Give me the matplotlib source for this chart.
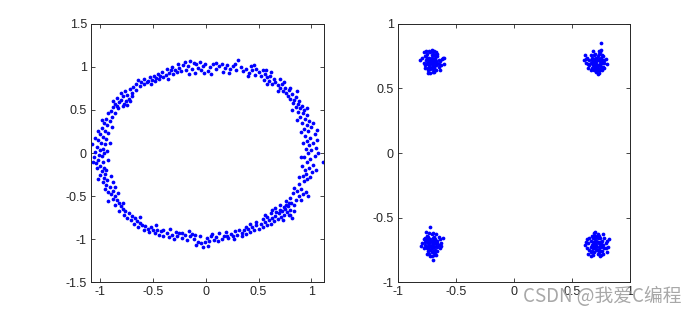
import matplotlib.pyplot as plt

# points, (x, y)
ring = [
    # right side, bottom to top
    (0.85, -0.55), (0.88, -0.50), (0.83, -0.47), (0.92, -0.48), (0.86, -0.44), (0.90, -0.42), (0.84, -0.41), (0.95, -0.45),
    (0.88, -0.36), (0.93, -0.33), (0.96, -0.30), (0.92, -0.27), (0.99, -0.28), (0.95, -0.24), (1.01, -0.22), (0.94, -0.20),
    (0.98, -0.18), (0.91, -0.15), (1.02, -0.14), (0.96, -0.11), (1.11, -0.11), (0.99, -0.07), (0.93, -0.05), (1.03, -0.03),
    (0.97, 0.00), (1.00, 0.03), (0.95, 0.05), (1.04, 0.06), (0.98, 0.09), (1.02, 0.12), (0.96, 0.14), (1.05, 0.15),
    (0.99, 0.18), (0.94, 0.20), (1.03, 0.22), (0.97, 0.25), (1.05, 0.27), (0.93, 0.28), (1.00, 0.30), (0.96, 0.33),
    (0.91, 0.35), (0.98, 0.37), (0.94, 0.40), (0.89, 0.42), (0.96, 0.44), (0.92, 0.46), (0.87, 0.48), (0.93, 0.50),
    (0.89, 0.52), (0.85, 0.54), (0.91, 0.55), (0.87, 0.57), (0.83, 0.58), (0.88, 0.60), (0.84, 0.62), (0.80, 0.63),
    (0.90, -0.55), (0.97, -0.50), (0.80, -0.52), (0.88, -0.28), (1.04, -0.20), (0.90, -0.05), (1.06, 0.00), (0.92, 0.12),
    (0.90, 0.24), (1.02, 0.35), (0.86, 0.38), (0.96, 0.52), (0.82, 0.50),
    # upper right
    (0.85, 0.65), (0.78, 0.66), (0.82, 0.69), (0.76, 0.70), (0.79, 0.73), (0.73, 0.72), (0.75, 0.76), (0.70, 0.75),
    (0.68, 0.79), (0.72, 0.80), (0.66, 0.82), (0.63, 0.80), (0.60, 0.84), (0.65, 0.86), (0.58, 0.88), (0.55, 0.85),
    (0.61, 0.90), (0.56, 0.92), (0.52, 0.90), (0.57, 0.97), (0.50, 0.94), (0.47, 0.91), (0.44, 0.96), (0.48, 0.98),
    (0.41, 0.93), (0.38, 0.98), (0.43, 1.01), (0.35, 0.95), (0.33, 1.00), (0.31, 1.08),
    (0.86, 0.72), (0.74, 0.82), (0.70, 0.86), (0.62, 0.94), (0.54, 0.96), (0.46, 1.02), (0.40, 0.90), (0.68, 0.72),
    (0.80, 0.76), (0.58, 0.80),
    # top
    (0.29, 0.97), (0.26, 1.01), (0.23, 0.98), (0.20, 1.02), (0.18, 0.99), (0.15, 1.04), (0.13, 1.01), (0.10, 0.98),
    (0.07, 1.03), (0.04, 1.00), (0.02, 0.95), (-0.01, 1.04), (-0.03, 1.01), (-0.02, 0.93), (-0.05, 1.06), (-0.07, 0.99),
    (-0.09, 1.03), (-0.11, 1.05), (-0.13, 0.98), (-0.15, 1.07), (-0.17, 1.01), (-0.19, 0.97), (-0.21, 1.02), (-0.23, 0.95),
    (-0.25, 0.99), (-0.27, 0.94), (-0.29, 0.97), (-0.31, 0.92), (-0.33, 0.96), (-0.35, 0.93),
    (0.28, 1.03), (0.22, 0.93), (0.16, 0.94), (0.10, 1.05), (0.05, 0.92), (-0.04, 0.96), (-0.10, 0.93), (-0.16, 0.92),
    (-0.20, 1.06), (-0.26, 1.04), (-0.32, 1.00), (-0.37, 0.98),
    # upper left
    (-0.38, 0.91), (-0.41, 0.94), (-0.43, 0.89), (-0.45, 0.92), (-0.47, 0.87), (-0.49, 0.90), (-0.51, 0.85), (-0.53, 0.88),
    (-0.55, 0.84), (-0.58, 0.86), (-0.61, 0.82), (-0.64, 0.85), (-0.66, 0.80), (-0.69, 0.77), (-0.72, 0.74), (-0.70, 0.70),
    (-0.74, 0.68), (-0.76, 0.72), (-0.73, 0.63), (-0.78, 0.66), (-0.75, 0.60), (-0.80, 0.62), (-0.77, 0.57), (-0.82, 0.59),
    (-0.84, 0.55), (-0.86, 0.57), (-0.83, 0.52), (-0.88, 0.53), (-0.90, 0.49), (-0.86, 0.47),
    (-0.80, 0.70), (-0.84, 0.64), (-0.78, 0.55), (-0.72, 0.60), (-0.70, 0.66), (-0.88, 0.60), (-0.74, 0.56), (-0.66, 0.73),
    (-0.62, 0.78), (-0.56, 0.82), (-0.52, 0.80), (-0.48, 0.84), (-0.44, 0.86), (-0.40, 0.88), (-0.36, 0.86), (-0.58, 0.80),
    # left side
    (-0.92, 0.46), (-0.89, 0.42), (-0.94, 0.40), (-0.91, 0.37), (-0.96, 0.35), (-0.93, 0.32), (-0.89, 0.30), (-0.98, 0.29),
    (-0.95, 0.26), (-0.92, 0.23), (-1.00, 0.22), (-0.97, 0.19), (-0.94, 0.16), (-1.02, 0.15), (-0.99, 0.12), (-0.95, 0.10),
    (-1.08, 0.10), (-1.03, 0.07), (-0.97, 0.05), (-1.00, 0.03), (-1.05, 0.01), (-0.96, 0.00), (-1.01, -0.02), (-0.98, -0.04),
    (-1.06, -0.05), (-1.02, -0.08), (-0.97, -0.10), (-1.04, -0.12), (-1.00, -0.15), (-0.96, -0.17), (-1.03, -0.18), (-0.98, -0.21),
    (-0.95, -0.24), (-1.00, -0.26), (-0.96, -0.29), (-0.93, -0.31), (-0.97, -0.34), (-0.94, -0.37), (-0.91, -0.39), (-0.95, -0.42),
    (-0.92, -0.45), (-0.88, -0.44),
    (-0.98, 0.38), (-1.02, 0.25), (-1.05, 0.18), (-0.91, 0.12), (-0.93, 0.02), (-0.92, -0.08), (-1.07, -0.10), (-0.94, -0.20),
    (-1.02, -0.30), (-0.88, -0.34), (-0.90, -0.27), (-0.86, -0.40),
    # lower left
    (-0.90, -0.48), (-0.86, -0.50), (-0.88, -0.53), (-0.84, -0.55), (-0.82, -0.58), (-0.86, -0.60), (-0.80, -0.62), (-0.78, -0.65),
    (-0.82, -0.67), (-0.76, -0.68), (-0.73, -0.70), (-0.77, -0.72), (-0.70, -0.73), (-0.67, -0.76), (-0.71, -0.78), (-0.65, -0.79),
    (-0.68, -0.82), (-0.62, -0.81), (-0.60, -0.84), (-0.64, -0.86), (-0.57, -0.85), (-0.55, -0.88), (-0.52, -0.86), (-0.50, -0.90),
    (-0.54, -0.92), (-0.48, -0.93), (-0.46, -0.89), (-0.44, -0.95), (-0.42, -0.91), (-0.40, -0.97),
    (-0.83, -0.47), (-0.92, -0.56), (-0.78, -0.58), (-0.74, -0.76), (-0.62, -0.74), (-0.58, -0.90), (-0.47, -0.84), (-0.40, -0.90),
    (-0.34, -0.88), (-0.28, -0.92),
    # bottom
    (-0.37, -0.93), (-0.35, -0.98), (-0.32, -0.95), (-0.30, -1.00), (-0.27, -0.96), (-0.25, -0.93), (-0.22, -0.99), (-0.20, -0.95),
    (-0.18, -1.01), (-0.15, -0.97), (-0.13, -0.94), (-0.11, -1.00), (-0.09, -1.07), (-0.07, -1.03), (-0.05, -0.97), (-0.03, -1.09),
    (-0.01, -1.04), (0.01, -0.99), (0.03, -1.02), (0.05, -0.96), (0.08, -1.01), (0.10, -0.98), (0.13, -0.93), (0.15, -1.00),
    (0.17, -0.96), (0.19, -0.92), (0.21, -0.99), (0.24, -0.94), (0.26, -0.97), (0.28, -0.91), (0.30, -0.95), (0.32, -0.89),
    (0.34, -0.93),
    (-0.22, -0.93), (-0.16, -0.91), (-0.10, -0.95), (-0.04, -1.05), (0.02, -1.08), (0.06, -0.94), (0.12, -1.02), (0.20, -0.96),
    (0.27, -1.00), (0.34, -0.97), (0.38, -0.86), (0.42, -0.82),
    # lower right
    (0.36, -0.90), (0.38, -0.94), (0.40, -0.88), (0.42, -0.92), (0.44, -0.86), (0.46, -0.90), (0.48, -0.84), (0.50, -0.88),
    (0.52, -0.82), (0.54, -0.86), (0.56, -0.80), (0.58, -0.84), (0.60, -0.78), (0.62, -0.82), (0.63, -0.76), (0.65, -0.79),
    (0.66, -0.73), (0.68, -0.77), (0.69, -0.70), (0.71, -0.74), (0.72, -0.68), (0.74, -0.72), (0.75, -0.65), (0.77, -0.69),
    (0.78, -0.62), (0.80, -0.66), (0.76, -0.60), (0.81, -0.58), (0.74, -0.63), (0.70, -0.66), (0.82, -0.76), (0.79, -0.72),
    (0.67, -0.69), (0.73, -0.78), (0.84, -0.60),
    (0.48, -0.80), (0.54, -0.77), (0.58, -0.74), (0.62, -0.70), (0.66, -0.64), (0.70, -0.60), (0.76, -0.56), (0.80, -0.72),
    (0.84, -0.68), (0.63, -0.66), (0.56, -0.72), (0.79, -0.58),
]

cluster_tl = [
    (-0.71, 0.71), (-0.68, 0.73), (-0.74, 0.69), (-0.70, 0.76), (-0.73, 0.74), (-0.66, 0.70), (-0.76, 0.72), (-0.69, 0.67),
    (-0.72, 0.65), (-0.75, 0.77), (-0.67, 0.78), (-0.81, 0.72), (-0.62, 0.73), (-0.71, 0.80), (-0.74, 0.62), (-0.69, 0.63),
    (-0.77, 0.68), (-0.65, 0.67), (-0.70, 0.72), (-0.72, 0.70), (-0.68, 0.69), (-0.73, 0.71), (-0.75, 0.74), (-0.66, 0.75),
    (-0.70, 0.68), (-0.78, 0.70), (-0.64, 0.71), (-0.71, 0.74), (-0.69, 0.70), (-0.74, 0.66), (-0.61, 0.74), (-0.67, 0.64),
    (-0.76, 0.79), (-0.72, 0.78), (-0.73, 0.68), (-0.70, 0.65), (-0.68, 0.76), (-0.77, 0.75), (-0.65, 0.69), (-0.71, 0.67),
    (-0.60, 0.69), (-0.79, 0.74), (-0.69, 0.79), (-0.74, 0.64),
    (-0.70, 0.70), (-0.72, 0.73), (-0.69, 0.72), (-0.73, 0.67), (-0.67, 0.71), (-0.71, 0.69), (-0.74, 0.73), (-0.68, 0.74),
    (-0.70, 0.78), (-0.66, 0.77), (-0.64, 0.64), (-0.77, 0.66), (-0.72, 0.62), (-0.75, 0.70), (-0.69, 0.66), (-0.71, 0.76),
    (-0.73, 0.79), (-0.63, 0.68), (-0.76, 0.75), (-0.67, 0.68), (-0.60, 0.74), (-0.78, 0.78), (-0.70, 0.63), (-0.65, 0.72),
]
cluster_tr = [
    (0.71, 0.71), (0.74, 0.69), (0.68, 0.72), (0.72, 0.75), (0.70, 0.67), (0.76, 0.72), (0.66, 0.70), (0.73, 0.65),
    (0.69, 0.76), (0.75, 0.85), (0.78, 0.70), (0.63, 0.74), (0.71, 0.63), (0.67, 0.66), (0.74, 0.78), (0.60, 0.72),
    (0.77, 0.67), (0.70, 0.73), (0.72, 0.68), (0.69, 0.69), (0.75, 0.74), (0.65, 0.68), (0.73, 0.62), (0.80, 0.69),
    (0.68, 0.79), (0.71, 0.66), (0.74, 0.71), (0.62, 0.70), (0.76, 0.64), (0.70, 0.70), (0.67, 0.74), (0.72, 0.72),
    (0.79, 0.73), (0.64, 0.66), (0.73, 0.77), (0.69, 0.64), (0.75, 0.80), (0.71, 0.68), (0.66, 0.76), (0.78, 0.66),
    (0.61, 0.76), (0.72, 0.64), (0.76, 0.76), (0.68, 0.68),
    (0.70, 0.71), (0.73, 0.73), (0.69, 0.70), (0.72, 0.66), (0.67, 0.72), (0.74, 0.68), (0.71, 0.74), (0.68, 0.65),
    (0.76, 0.70), (0.65, 0.72), (0.73, 0.79), (0.70, 0.77), (0.77, 0.75), (0.64, 0.69), (0.72, 0.61), (0.69, 0.73),
    (0.75, 0.67), (0.66, 0.64), (0.78, 0.72), (0.62, 0.73), (0.71, 0.69), (0.74, 0.64), (0.70, 0.64), (0.67, 0.70),
]
cluster_bl = [
    (-0.71, -0.71), (-0.68, -0.69), (-0.74, -0.72), (-0.70, -0.66), (-0.73, -0.75), (-0.66, -0.73), (-0.76, -0.68), (-0.69, -0.77),
    (-0.72, -0.57), (-0.76, -0.61), (-0.70, -0.83), (-0.64, -0.67), (-0.78, -0.74), (-0.71, -0.63), (-0.67, -0.79), (-0.74, -0.65),
    (-0.69, -0.73), (-0.72, -0.69), (-0.65, -0.71), (-0.77, -0.71), (-0.68, -0.75), (-0.73, -0.78), (-0.70, -0.70), (-0.75, -0.67),
    (-0.66, -0.68), (-0.71, -0.74), (-0.61, -0.66), (-0.79, -0.70), (-0.69, -0.65), (-0.74, -0.76), (-0.67, -0.72), (-0.72, -0.80),
    (-0.76, -0.73), (-0.70, -0.62), (-0.64, -0.74), (-0.73, -0.70), (-0.68, -0.67), (-0.71, -0.77), (-0.75, -0.64), (-0.66, -0.76),
    (-0.72, -0.72), (-0.69, -0.79), (-0.77, -0.66), (-0.63, -0.70),
    (-0.70, -0.72), (-0.73, -0.73), (-0.69, -0.70), (-0.72, -0.67), (-0.67, -0.70), (-0.74, -0.70), (-0.71, -0.68), (-0.68, -0.77),
    (-0.75, -0.74), (-0.65, -0.65), (-0.73, -0.62), (-0.70, -0.76), (-0.77, -0.69), (-0.66, -0.70), (-0.72, -0.75), (-0.69, -0.68),
    (-0.75, -0.78), (-0.63, -0.72), (-0.78, -0.67), (-0.71, -0.80), (-0.67, -0.63), (-0.74, -0.68), (-0.70, -0.73), (-0.80, -0.72),
]
cluster_br = [
    (0.71, -0.71), (0.68, -0.69), (0.74, -0.72), (0.70, -0.66), (0.73, -0.75), (0.66, -0.73), (0.76, -0.68), (0.69, -0.77),
    (0.70, -0.61), (0.72, -0.63), (0.80, -0.77), (0.82, -0.67), (0.64, -0.78), (0.78, -0.74), (0.67, -0.64), (0.75, -0.79),
    (0.61, -0.71), (0.72, -0.69), (0.69, -0.73), (0.74, -0.66), (0.77, -0.71), (0.66, -0.68), (0.71, -0.75), (0.63, -0.74),
    (0.79, -0.70), (0.68, -0.79), (0.73, -0.64), (0.70, -0.70), (0.75, -0.73), (0.67, -0.76), (0.72, -0.78), (0.65, -0.66),
    (0.78, -0.66), (0.71, -0.68), (0.69, -0.64), (0.76, -0.76), (0.62, -0.69), (0.74, -0.80), (0.70, -0.74), (0.68, -0.72),
    (0.81, -0.73), (0.73, -0.70), (0.66, -0.80), (0.77, -0.63),
    (0.70, -0.71), (0.73, -0.73), (0.69, -0.70), (0.72, -0.66), (0.67, -0.71), (0.74, -0.69), (0.71, -0.73), (0.68, -0.66),
    (0.76, -0.72), (0.65, -0.75), (0.73, -0.77), (0.70, -0.68), (0.77, -0.78), (0.64, -0.70), (0.72, -0.75), (0.69, -0.62),
    (0.75, -0.70), (0.66, -0.77), (0.79, -0.74), (0.63, -0.67), (0.71, -0.64), (0.74, -0.76), (0.68, -0.74), (0.80, -0.68),
]

left_xticks = [-1, -0.5, 0, 0.5, 1]
left_yticks = [-1.5, -1, -0.5, 0, 0.5, 1, 1.5]
right_ticks = [-1, -0.5, 0, 0.5, 1]


def tick_text(v):
    return "0" if v == 0 else f"{v:g}"


def style_axes(ax):
    ax.tick_params(direction="in", length=3, width=0.6, labelsize=9,
                   top=True, right=True, colors="#262626", pad=3)
    for s in ax.spines.values():
        s.set_linewidth(0.7)
        s.set_color("#262626")


plt.rcParams["font.family"] = ["Liberation Sans", "DejaVu Sans"]
fig = plt.figure(figsize=(6.97, 3.17), dpi=100)

ax1 = fig.add_axes([0.1306, 0.1104, 0.3343, 0.8139])
x, y = zip(*ring)
ax1.plot(x, y, "o", color="#0000ff", markersize=2.7, markeredgewidth=0)
ax1.set_xlim(-1.085, 1.12)
ax1.set_ylim(-1.5, 1.5)
ax1.set_xticks(left_xticks, [tick_text(v) for v in left_xticks])
ax1.set_yticks(left_yticks, [tick_text(v) for v in left_yticks])
style_axes(ax1)

ax2 = fig.add_axes([0.571, 0.1104, 0.3329, 0.8139])
for pts in (cluster_tl, cluster_tr, cluster_bl, cluster_br):
    x, y = zip(*pts)
    ax2.plot(x, y, "o", color="#0000ff", markersize=2.7, markeredgewidth=0)
ax2.set_xlim(-1, 1)
ax2.set_ylim(-1, 1)
ax2.set_xticks(right_ticks, [tick_text(v) for v in right_ticks])
ax2.set_yticks(right_ticks, [tick_text(v) for v in right_ticks])
style_axes(ax2)

# watermark (overlaps the tick labels in the reference too)
fig.text(0.750, 0.048, "CSDN @我爱C编程", fontsize=13.5, color="#a8a8a8",
         family=["Noto Sans CJK SC", "DejaVu Sans"], ha="left", va="baseline")

fig.savefig("out.png", dpi=100)
